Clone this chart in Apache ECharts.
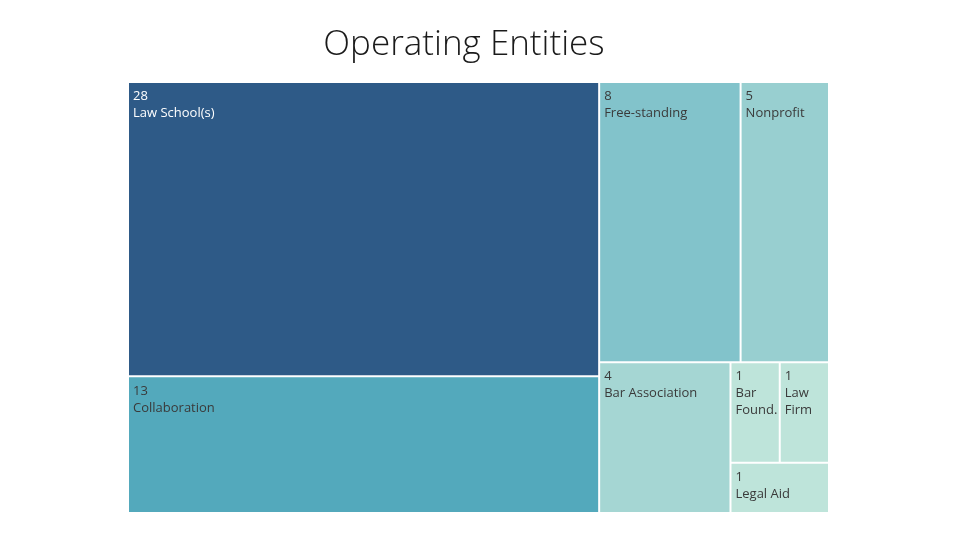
<!DOCTYPE html>
<html>
<head>
<meta charset="utf-8">
<script src="https://cdn.jsdelivr.net/npm/echarts@6/dist/echarts.min.js"></script>
<style>
  html, body { margin: 0; padding: 0; background: #fff; }
  #chart { width: 960px; height: 540px; }
</style>
</head>
<body>
<div id="chart"></div>
<script>
// data
var titleText = 'Operating Entities';
var entityNames = ['Law School(s)', 'Collaboration', 'Free-standing', 'Nonprofit', 'Bar Association', 'Bar Found.', 'Law Firm', 'Legal Aid'];
var entityCounts = [28, 13, 8, 5, 4, 1, 1, 1];

// grouping (indices into the arrays above) so the tiles fall like the original
var groups = [[0, 1], [[2, 3], [4, [[5, 6], 7]]]];

// styles
var tileColors = ['#2e5a87', '#53a9bc', '#82c3cb', '#98cfd0', '#a5d6d3', '#bee4da', '#bee4da', '#bee4da'];
var labelColors = ['#ffffff', '#3a3a3a', '#3a3a3a', '#3a3a3a', '#3a3a3a', '#3a3a3a', '#3a3a3a', '#3a3a3a'];

function buildNode(g) {
    if (typeof g === 'number') {
        return {
            name: entityNames[g],
            value: entityCounts[g],
            itemStyle: {color: tileColors[g], borderWidth: 1, borderColor: '#ffffff'},
            label: {color: labelColors[g]}
        };
    }
    return {
        name: '',
        children: g.map(buildNode),
        itemStyle: {borderWidth: 0, gapWidth: 0}
    };
}

var myChart = echarts.init(document.getElementById('chart'));

var option = {
    animation: false,
    title: {
        text: titleText,
        left: 459,
        textAlign: 'center',
        top: 23,
        textStyle: {fontFamily: 'Open Sans', fontSize: 35, fontWeight: 300, color: '#1a1a1a'}
    },
    series: [{
        type: 'treemap',
        left: 128,
        top: 82,
        width: 701,
        height: 431,
        roam: false,
        nodeClick: false,
        sort: false,
        breadcrumb: {show: false},
        squareRatio: 1.7,
        itemStyle: {borderWidth: 0, gapWidth: 0, borderColor: '#ffffff'},
        label: {
            show: true,
            position: 'insideTopLeft',
            formatter: '{c}\n{b}',
            fontFamily: 'Open Sans',
            fontSize: 13,
            lineHeight: 17,
            padding: [5, 0, 0, 4],
            overflow: 'break'
        },
        upperLabel: {show: false},
        data: groups.map(buildNode)
    }]
};

myChart.setOption(option);
</script>
</body>
</html>
